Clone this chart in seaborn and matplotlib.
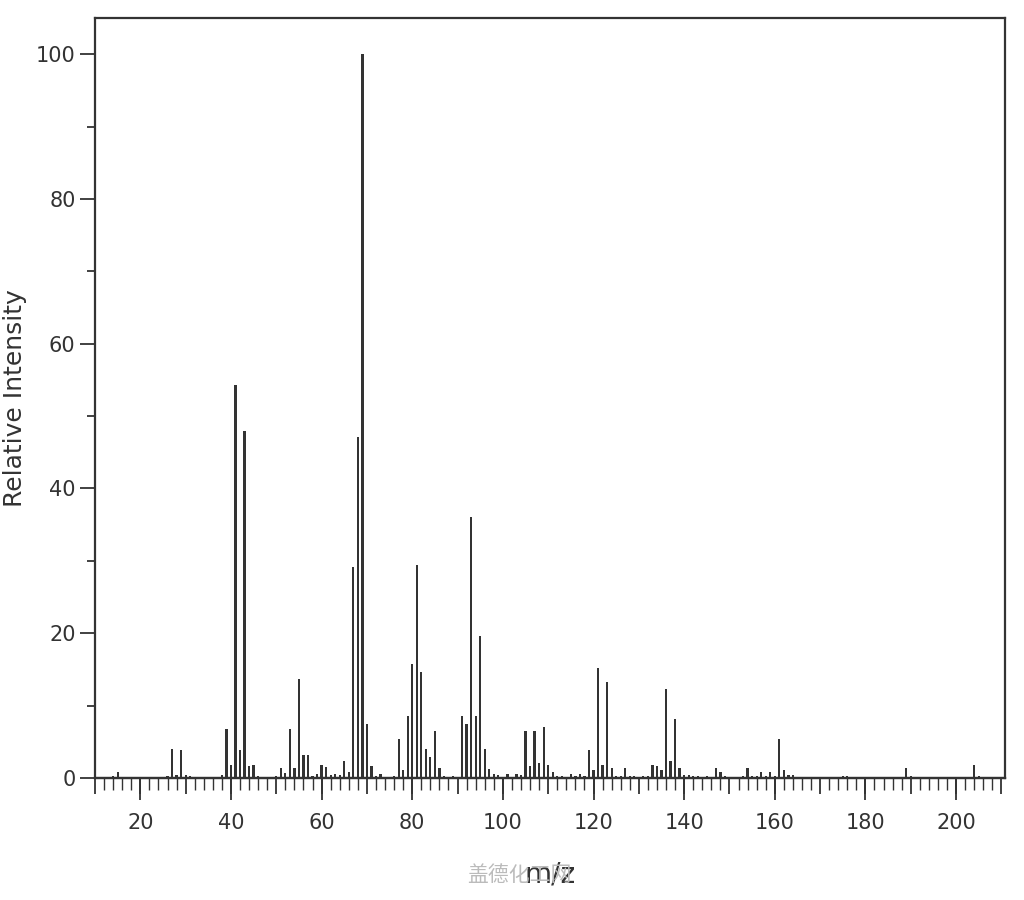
import matplotlib
matplotlib.use("Agg")
import matplotlib.pyplot as plt
import seaborn as sns
import pandas as pd
from matplotlib.ticker import MultipleLocator, NullFormatter

mz = [14, 15, 26, 27, 28, 29, 30, 31, 38, 39, 40, 41, 42, 43, 44, 45, 46,
      50, 51, 52, 53, 54, 55, 56, 57, 58, 59, 60, 61, 62, 63, 64, 65, 66,
      67, 68, 69, 70, 71, 72, 73, 76, 77, 78, 79, 80, 81, 82, 83, 84, 85,
      86, 87, 89, 91, 92, 93, 94, 95, 96, 97, 98, 99, 101, 103, 104, 105,
      106, 107, 108, 109, 110, 111, 112, 113, 115, 116, 117, 118, 119, 120,
      121, 122, 123, 124, 125, 126, 127, 128, 129, 131, 132, 133, 134, 135,
      136, 137, 138, 139, 140, 141, 142, 143, 145, 147, 148, 149, 153, 154,
      155, 156, 157, 158, 159, 160, 161, 162, 163, 164, 175, 176, 189, 190,
      204, 205]
intensity = [0.3, 0.8, 0.3, 4.0, 0.4, 3.8, 0.4, 0.3, 0.4, 6.8, 1.8, 54.3, 3.8,
             48.0, 1.7, 1.8, 0.3, 0.3, 1.4, 0.7, 6.8, 1.4, 13.7, 3.2, 3.2, 0.3,
             0.6, 1.8, 1.5, 0.4, 0.6, 0.4, 2.4, 0.8, 29.1, 47.1, 100.0, 7.4,
             1.7, 0.3, 0.6, 0.3, 5.4, 1.1, 8.5, 15.7, 29.4, 14.6, 4.0, 2.9,
             6.5, 1.4, 0.3, 0.3, 8.5, 7.4, 36.0, 8.5, 19.6, 4.0, 1.2, 0.6,
             0.4, 0.6, 0.6, 0.4, 6.5, 1.7, 6.5, 2.1, 7.1, 1.8, 0.8, 0.3, 0.3,
             0.6, 0.3, 0.6, 0.3, 3.8, 1.1, 15.2, 1.8, 13.2, 1.4, 0.3, 0.3, 1.4,
             0.3, 0.3, 0.3, 0.3, 1.8, 1.7, 1.1, 12.3, 2.4, 8.2, 1.4, 0.4, 0.4,
             0.3, 0.3, 0.3, 1.4, 0.8, 0.3, 0.3, 1.4, 0.3, 0.3, 0.8, 0.3, 0.8,
             0.3, 5.4, 1.1, 0.4, 0.4, 0.3, 0.3, 1.4, 0.3, 1.8, 0.3]

x_label_ticks = [20, 40, 60, 80, 100, 120, 140, 160, 180, 200]
y_label_ticks = [0, 20, 40, 60, 80, 100]

sns.set_style("white")
plt.rcParams['font.family'] = ['DejaVu Sans', 'Noto Sans CJK SC']

ink = "#333333"
df = pd.DataFrame({"mz": mz, "intensity": intensity})

fig = plt.figure(figsize=(10.24, 9), dpi=100)
ax = fig.add_axes([95 / 1024, 1 - 778 / 900, 910 / 1024, 760 / 900])

sns.barplot(data=df, x="mz", y="intensity", native_scale=True, width=0.5,
            color=ink, saturation=1, linewidth=0, ax=ax)

ax.set_xlim(10, 210.8)
ax.set_ylim(0, 105)

for s in ax.spines.values():
    s.set_visible(True)
    s.set_color(ink)
    s.set_linewidth(1.6)

# x axis: major at 10s (medium), minor every 2; long ticks + labels on secondary axis
ax.xaxis.set_major_locator(MultipleLocator(10))
ax.xaxis.set_minor_locator(MultipleLocator(2))
ax.xaxis.set_major_formatter(NullFormatter())
ax.tick_params(axis="x", which="major", direction="out", length=11.5, width=1.3,
               color=ink, bottom=True)
ax.tick_params(axis="x", which="minor", direction="out", length=8.5, width=1.0,
               color=ink, bottom=True)

sec = ax.secondary_xaxis("bottom")
sec.set_xticks(x_label_ticks)
sec.set_xticklabels([str(v) for v in x_label_ticks])
sec.tick_params(direction="out", length=16, width=1.3, color=ink,
                labelsize=15, labelcolor=ink, pad=9)
sec.spines["bottom"].set_color(ink)
sec.spines["bottom"].set_linewidth(1.6)
sec.set_xlabel("m/z", fontsize=20, color=ink, labelpad=20)

# y axis
ax.set_yticks(y_label_ticks)
ax.set_yticklabels([str(v) for v in y_label_ticks])
ax.yaxis.set_minor_locator(MultipleLocator(10))
ax.tick_params(axis="y", which="major", direction="out", length=11, width=1.3,
               color=ink, labelsize=15, labelcolor=ink, left=True, pad=3)
ax.tick_params(axis="y", which="minor", direction="out", length=6, width=1.3,
               color=ink, left=True)
ax.set_ylabel("Relative Intensity", fontsize=18, color=ink, labelpad=6)
ax.set_xlabel("")

# watermark (overlaps the axis title, as in the reference)
fig.text(519 / 1024, 1 - 875 / 900, "盖德化工网", fontsize=15, color="#bbbbbb",
         ha="center", va="center", family=['Noto Sans CJK SC', 'DejaVu Sans'],
         zorder=0)

fig.savefig("out.png", dpi=100, facecolor="white")
